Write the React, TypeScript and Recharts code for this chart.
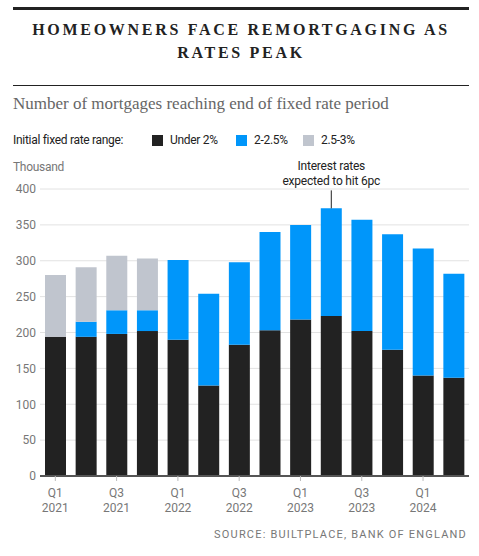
import { BarChart, Bar, XAxis, YAxis, CartesianGrid, LabelList } from 'recharts';

const quarters = [
  'Q1 2021', 'Q2 2021', 'Q3 2021', 'Q4 2021',
  'Q1 2022', 'Q2 2022', 'Q3 2022', 'Q4 2022',
  'Q1 2023', 'Q2 2023', 'Q3 2023', 'Q4 2023',
  'Q1 2024', 'Q2 2024',
];
const under2 = [194, 194, 198, 202, 190, 126, 183, 203, 218, 223, 202, 176, 140, 137];
const rate2to25 = [0, 21, 33, 29, 111, 128, 115, 137, 132, 150, 155, 161, 177, 145];
const rate25to3 = [86, 76, 76, 72, 0, 0, 0, 0, 0, 0, 0, 0, 0, 0];
const yTicks = [0, 50, 100, 150, 200, 250, 300, 350, 400];
const peakQuarter = 'Q2 2023';

const data = quarters.map((q, i) => ({
  quarter: q,
  under2: under2[i],
  rate2to25: rate2to25[i],
  rate25to3: rate25to3[i],
}));

const sans = 'Roboto, "Liberation Sans", sans-serif';
const BLACK = '#222222';
const BLUE = '#0096fa';
const GREY = '#c0c5ce';

const QuarterTick = (props: any) => {
  const { x, y, payload } = props;
  const [q, yr] = String(payload.value).split(' ');
  return (
    <text x={x} y={y} textAnchor="middle" fill="#777" fontSize={12} fontFamily={sans}>
      <tspan x={x} dy={14}>{q}</tspan>
      <tspan x={x} dy={15}>{yr}</tspan>
    </text>
  );
};

const PeakNote = (props: any) => {
  const { x, y, width, value } = props;
  if (value !== peakQuarter) return null;
  const cx = x + width / 2;
  return (
    <g>
      <line x1={cx} x2={cx} y1={y - 18} y2={y} stroke="#222" strokeWidth={1} />
      <text x={cx} y={y - 38} textAnchor="middle" fill="#222" fontSize={12} fontFamily={sans} letterSpacing={-0.2}>
        Interest rates
      </text>
      <text x={cx} y={y - 23} textAnchor="middle" fill="#222" fontSize={12} fontFamily={sans} letterSpacing={-0.2}>
        expected to hit 6pc
      </text>
    </g>
  );
};

const Swatch = ({ color, label, left }: { color: string; label: string; left: number }) => (
  <div style={{ position: 'absolute', left, top: 0, display: 'flex', alignItems: 'center' }}>
    <div style={{ width: 11, height: 11, background: color, marginRight: 7 }} />
    <span>{label}</span>
  </div>
);

export default function App() {
  return (
    <div style={{ position: 'absolute', left: 0, top: 0, width: 479, height: 556, background: '#fff' }}>
      <div style={{ position: 'absolute', left: 13, top: 7, width: 456, height: 3, background: '#222' }} />
      <div
        style={{
          position: 'absolute', left: 13, top: 18, width: 456, textAlign: 'center',
          fontFamily: '"Liberation Serif", "DejaVu Serif", serif', fontWeight: 'bold',
          fontSize: 16, letterSpacing: 2.7, lineHeight: '23px', color: '#222',
        }}
      >
        HOMEOWNERS FACE REMORTGAGING AS
        <br />
        RATES PEAK
      </div>
      <div style={{ position: 'absolute', left: 13, top: 85, width: 456, height: 1, background: '#222' }} />
      <div
        style={{
          position: 'absolute', left: 13, top: 94, fontFamily: '"Liberation Serif", "DejaVu Serif", serif',
          fontSize: 17, color: '#666', whiteSpace: 'nowrap',
        }}
      >
        Number of mortgages reaching end of fixed rate period
      </div>
      <div
        style={{
          position: 'absolute', left: 13, top: 133, width: 456, height: 16,
          fontFamily: sans, fontSize: 12, letterSpacing: -0.3, color: '#222',
        }}
      >
        <span style={{ position: 'absolute', left: 0, top: 0 }}>Initial fixed rate range:</span>
        <Swatch color={BLACK} label="Under 2%" left={139} />
        <Swatch color={BLUE} label="2-2.5%" left={223} />
        <Swatch color={GREY} label="2.5-3%" left={290} />
      </div>
      <div style={{ position: 'absolute', left: 13, top: 160, fontFamily: sans, fontSize: 12, letterSpacing: -0.3, color: '#777' }}>
        Thousand
      </div>
      <div style={{ position: 'absolute', left: 0, top: 160 }}>
        <BarChart width={479} height={360} data={data} margin={{ top: 29, right: 10, left: 0, bottom: 0 }}>
          <CartesianGrid vertical={false} stroke="#e2e2e2" strokeWidth={1} />
          <XAxis
            dataKey="quarter"
            interval={1}
            height={44}
            tick={<QuarterTick />}
            tickSize={5}
            tickLine={{ stroke: '#bbb' }}
            axisLine={{ stroke: '#555', strokeWidth: 2 }}
          />
          <YAxis
            width={40}
            domain={[0, 400]}
            ticks={yTicks}
            tickLine={false}
            axisLine={false}
            tick={{ fill: '#777', fontSize: 12, fontFamily: sans }}
            tickSize={2}
            tickMargin={2}
          />
          <Bar dataKey="under2" stackId="a" fill={BLACK} barSize={21} isAnimationActive={false} />
          <Bar dataKey="rate2to25" stackId="a" fill={BLUE} barSize={21} isAnimationActive={false}>
            <LabelList dataKey="quarter" content={<PeakNote />} />
          </Bar>
          <Bar dataKey="rate25to3" stackId="a" fill={GREY} barSize={21} isAnimationActive={false} />
        </BarChart>
      </div>
      <div
        style={{
          position: 'absolute', right: 12, top: 528, fontFamily: sans, fontSize: 11,
          letterSpacing: 1.2, color: '#777', whiteSpace: 'nowrap',
        }}
      >
        SOURCE: BUILTPLACE, BANK OF ENGLAND
      </div>
    </div>
  );
}
